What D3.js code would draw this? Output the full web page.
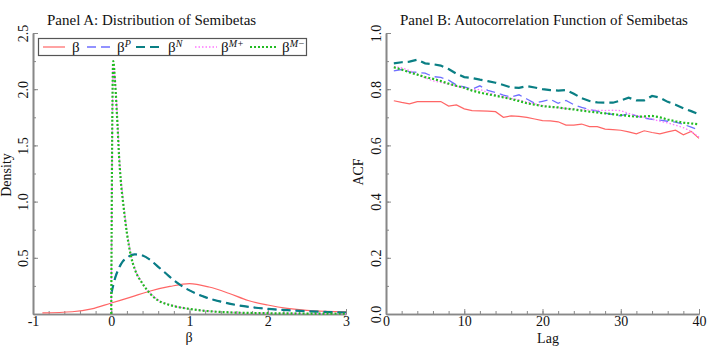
<!DOCTYPE html>
<html><head><meta charset="utf-8">
<script src="https://cdn.jsdelivr.net/npm/d3@7"></script>
<style>
body{margin:0;background:#fff;}
text{font-family:"Liberation Serif","Times New Roman",serif;fill:#111;}
</style></head>
<body><svg id="c" width="720" height="355"></svg>
<script>
// ---------- Panel A data (density) ----------
const betaGrid   = [-0.88,-0.5,-0.25,0,0.25,0.5,0.75,1.0,1.25,1.5,1.75,2.0,2.25,2.5,2.75,3.0];
const betaDens   = [0.01,0.02,0.045,0.098,0.15,0.205,0.245,0.27,0.24,0.185,0.12,0.08,0.05,0.032,0.024,0.02];
const semiGrid   = [0,0.05,0.1,0.15,0.2,0.3,0.4,0.5,0.6,0.7,0.8,0.9,1.0,1.2,1.4,1.6,1.8,2.0,2.25,2.5,2.75,3.0];
const betaPDens  = [0.18,0.33,0.42,0.47,0.5,0.53,0.52,0.48,0.42,0.36,0.3,0.25,0.21,0.15,0.11,0.08,0.06,0.045,0.035,0.025,0.018,0.012];
const betaNDens  = [0.18,0.32,0.41,0.47,0.5,0.53,0.52,0.48,0.42,0.36,0.3,0.25,0.21,0.15,0.11,0.08,0.06,0.045,0.034,0.025,0.018,0.012];
const mGrid      = [0,0.01,0.025,0.05,0.08,0.1,0.12,0.15,0.2,0.25,0.3,0.4,0.5,0.6,0.7,0.8,1.0,1.25,1.5,2.0,2.5,3.0];
const betaMPDens = [0,1.3,2.2,2.08,1.72,1.45,1.24,1.03,0.74,0.54,0.41,0.27,0.185,0.125,0.092,0.072,0.046,0.026,0.016,0.007,0.004,0.002];
const betaMNDens = [0,1.4,2.25,2.05,1.68,1.4,1.2,1.0,0.72,0.52,0.4,0.27,0.18,0.12,0.09,0.07,0.045,0.025,0.015,0.007,0.004,0.002];

// ---------- Panel B data (ACF) ----------
const lags = d3.range(1,41);
const acfBeta = [0.759,0.753,0.748,0.756,0.756,0.756,0.756,0.740,0.744,0.730,0.724,0.723,0.722,0.720,0.700,0.705,0.703,0.700,0.694,0.688,
                 0.687,0.684,0.672,0.672,0.676,0.667,0.667,0.658,0.656,0.654,0.648,0.641,0.652,0.646,0.641,0.648,0.654,0.638,0.650,0.625];
const acfP    = [0.865,0.870,0.862,0.860,0.857,0.845,0.842,0.832,0.815,0.808,0.800,0.812,0.796,0.788,0.779,0.772,0.780,0.765,0.750,0.757,
                 0.764,0.750,0.760,0.745,0.735,0.728,0.722,0.715,0.710,0.705,0.714,0.705,0.697,0.693,0.690,0.686,0.683,0.675,0.665,0.655];
const acfN    = [0.892,0.896,0.898,0.905,0.892,0.889,0.884,0.872,0.855,0.843,0.840,0.834,0.829,0.823,0.815,0.806,0.805,0.811,0.806,0.800,
                 0.797,0.795,0.797,0.784,0.768,0.758,0.753,0.752,0.752,0.760,0.770,0.760,0.760,0.776,0.770,0.755,0.745,0.732,0.722,0.710];
const acfMP   = [0.880,0.876,0.866,0.853,0.840,0.830,0.824,0.818,0.811,0.804,0.798,0.799,0.788,0.780,0.773,0.767,0.762,0.754,0.748,0.742,
                 0.738,0.734,0.731,0.730,0.727,0.726,0.725,0.724,0.725,0.724,0.714,0.706,0.700,0.694,0.686,0.680,0.672,0.663,0.650,0.630];
const acfMN   = [0.878,0.870,0.860,0.852,0.843,0.837,0.829,0.820,0.812,0.805,0.795,0.788,0.782,0.777,0.771,0.765,0.758,0.750,0.745,0.740,
                 0.737,0.735,0.731,0.728,0.724,0.720,0.717,0.714,0.711,0.708,0.705,0.702,0.703,0.705,0.700,0.692,0.686,0.681,0.678,0.675];

const seriesNames = ["β","β^P","β^N","β^M+","β^M−"];
const xTicksA = [-1,0,1,2,3];
const yTicksA = [0.5,1.0,1.5,2.0,2.5];
const xTicksB = [0,10,20,30,40];
const yTicksB = [0.0,0.2,0.4,0.6,0.8,1.0];

const styles = [
  {color:"#ff6666", width:1.2, dash:null},
  {color:"#6f6fff", width:1.3, dash:"9,5"},
  {color:"#0a7f84", width:2.2, dash:"9,5"},
  {color:"#ff77ff", width:1.3, dash:"1.5,2"},
  {color:"#22bb22", width:2.2, dash:"2,2"}
];

const svg = d3.select("#c");
const axisCol = "#888";

function drawAxes(g, x, y, xt, yt, xMinor, yMinor, xfmt, yfmt){
  const gx = g.append("g").attr("transform",`translate(0,${y.range()[0]})`);
  gx.call(d3.axisBottom(x).tickValues(xMinor).tickSize(-3).tickSizeOuter(0).tickFormat(""));
  const gx2 = g.append("g").attr("transform",`translate(0,${y.range()[0]})`);
  gx2.call(d3.axisBottom(x).tickValues(xt).tickSize(-5).tickSizeOuter(0).tickPadding(2).tickFormat(xfmt));
  const gy = g.append("g").attr("transform",`translate(${x.range()[0]},0)`);
  gy.call(d3.axisLeft(y).tickValues(yMinor).tickSize(-3).tickSizeOuter(0).tickFormat(""));
  const gy2 = g.append("g").attr("transform",`translate(${x.range()[0]},0)`);
  gy2.call(d3.axisLeft(y).tickValues(yt).tickSize(-5).tickSizeOuter(0).tickFormat(yfmt));
  gy2.selectAll(".tick text").attr("x",0).attr("y",-5).attr("dy",0)
     .attr("transform","rotate(-90)").attr("text-anchor","middle");
  [gx,gx2,gy,gy2].forEach(a=>{
    a.selectAll("path.domain").attr("stroke",axisCol).attr("stroke-width",1.6);
    a.selectAll(".tick line").attr("stroke",axisCol).attr("stroke-width",1);
    a.selectAll(".tick text").style("font-family","Liberation Serif, serif").style("font-size","14px").attr("fill","#111");
  });
}

// ---------- Panel A ----------
const xA = d3.scaleLinear().domain([-1,3]).range([33,346]);
const yA = d3.scaleLinear().domain([0,2.5]).range([314,33]);
const gA = svg.append("g");
drawAxes(gA, xA, yA, xTicksA, yTicksA, d3.range(-1,3.0001,0.2).map(v=>+v.toFixed(2)), d3.range(0,2.5001,0.25),
         d=>String(d), d=>d3.format(".1f")(d));

const lineA = d3.line().x(d=>xA(d[0])).y(d=>yA(d[1])).curve(d3.curveMonotoneX);
const densSeries = [
  d3.zip(betaGrid,betaDens),
  d3.zip(semiGrid,betaPDens),
  d3.zip(semiGrid,betaNDens),
  d3.zip(mGrid,betaMPDens),
  d3.zip(mGrid,betaMNDens)
];
densSeries.forEach((s,i)=>{
  gA.append("path").attr("d",lineA(s)).attr("fill","none")
    .attr("stroke",styles[i].color).attr("stroke-width",styles[i].width)
    .attr("stroke-dasharray",styles[i].dash);
});

gA.append("text").attr("x",47).attr("y",25).style("font-size","15px").text("Panel A: Distribution of Semibetas");
gA.append("text").attr("transform","translate(11,175) rotate(-90)").attr("text-anchor","middle").style("font-size","14px").text("Density");
gA.append("text").attr("x",189).attr("y",342).attr("text-anchor","middle").style("font-size","14px").text("β");

// legend
const lg = gA.append("g");
lg.append("rect").attr("x",38.5).attr("y",38.5).attr("width",268).attr("height",17)
  .attr("fill","#fff").attr("stroke","#555").attr("stroke-width",1.2);
const legItems = [
  {x1:43,x2:65,tx:72},
  {x1:87,x2:113,tx:117},
  {x1:136,x2:162,tx:168},
  {x1:195,x2:217,tx:221},
  {x1:250,x2:277,tx:282}
];
legItems.forEach((it,i)=>{
  lg.append("line").attr("x1",it.x1).attr("x2",it.x2).attr("y1",47).attr("y2",47)
    .attr("stroke",styles[i].color).attr("stroke-width",styles[i].width).attr("stroke-dasharray",styles[i].dash);
  const parts = seriesNames[i].split("^");
  const t = lg.append("text").attr("x",it.tx).attr("y",52).style("font-size","15px");
  t.append("tspan").text(parts[0]);
  if(parts[1]) t.append("tspan").attr("dy",-5).style("font-size","10px").style("font-style","italic").text(parts[1]);
});

// ---------- Panel B ----------
const xB = d3.scaleLinear().domain([0,40]).range([386,699]);
const yB = d3.scaleLinear().domain([0,1]).range([314,33]);
const gB = svg.append("g");
drawAxes(gB, xB, yB, xTicksB, yTicksB, d3.range(0,40.001,2), d3.range(0,1.0001,0.1).map(v=>+v.toFixed(2)),
         d=>String(d), d=>d3.format(".1f")(d));
const lineB = d3.line().x((d,i)=>xB(lags[i])).y(d=>yB(d));
[acfBeta,acfP,acfN,acfMP,acfMN].forEach((s,i)=>{
  gB.append("path").attr("d",lineB(s)).attr("fill","none")
    .attr("stroke",styles[i].color).attr("stroke-width",styles[i].width)
    .attr("stroke-dasharray",styles[i].dash);
});
gB.append("text").attr("x",400).attr("y",25).style("font-size","15px").text("Panel B: Autocorrelation Function of Semibetas");
gB.append("text").attr("transform","translate(363,172) rotate(-90)").attr("text-anchor","middle").style("font-size","14px").text("ACF");
gB.append("text").attr("x",548).attr("y",343).attr("text-anchor","middle").style("font-size","14px").text("Lag");
</script></body></html>
